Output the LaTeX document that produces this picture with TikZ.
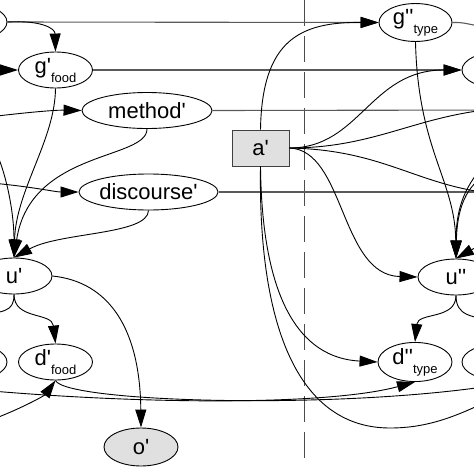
\documentclass[tikz,border=0pt]{standalone}
\usepackage{fontspec}
\setmainfont{Liberation Sans}[Ligatures=TeXOff]
\usetikzlibrary{arrows.meta,shapes.geometric}
\definecolor{nodegray}{RGB}{224,224,224}
\definecolor{linegray}{RGB}{90,90,90}
\newcommand{\sbx}[1]{\raisebox{-9pt}{\fontsize{13}{13}\selectfont #1}}
\begin{document}
\begin{tikzpicture}[x=1pt,y=-1pt,
  ell/.style={draw=black, ellipse, inner sep=0pt, line width=0.9pt,
    minimum width=74pt, minimum height=36pt, font=\fontsize{22}{24}\selectfont},
  abox/.style={draw=black!75, fill=nodegray, rectangle, inner sep=0pt, line width=0.9pt,
    minimum width=57pt, minimum height=36pt, font=\fontsize{22}{24}\selectfont},
  edge/.style={line width=0.9pt, draw=black},
  arr/.style={-{Triangle[length=18pt,width=11pt,black]}},
  hline/.style={line width=1.1pt, draw=linegray},
  sep/.style={line width=1pt, draw=black!70, dash pattern=on 26pt off 10pt}
]
\useasboundingbox (0,0) rectangle (474,474);
\clip (0,0) rectangle (474,474);

% nodes
\node[ell] (L1) at (-30,22) {};
\node[ell] (L2) at (-30,362) {};
\node[ell] (R1) at (499,70) {};
\node[ell] (R2) at (499,362) {};
\node[ell] (gfood) at (55.5,70) {g'\sbx{food}};
\node[ell, minimum width=130pt] (method) at (147,110.5) {method'};
\node[ell, minimum width=127pt] (disc) at (148.5,192) {discourse'};
\node[ell, minimum width=76pt] (uL) at (14,276) {u'};
\node[ell] (dfood) at (55.5,362) {d'\sbx{food}};
\node[ell, fill=nodegray, minimum height=38pt] (o) at (141,447) {o'};
\node[abox] (a) at (260.5,148) {a'};
\node[ell, minimum width=73pt] (gtype) at (415.5,22.5) {g''\sbx{type}};
\node[ell, minimum width=76pt] (uR) at (456,277) {u''};
\node[ell, minimum height=38pt] (dtype) at (415,362) {d''\sbx{type}};

% free ends
\coordinate (inG) at (-40,70);
\coordinate (inM) at (-20,118);
\coordinate (inD) at (-20,182);
\coordinate (inU) at (-10,140);
\coordinate (outU) at (-30,316);
\coordinate (inDf) at (-20,424);
\coordinate (inDt) at (-20,390);
\coordinate (mOut) at (520,110);
\coordinate (dOut) at (520,192);
\coordinate (dfOut) at (490,386);
\coordinate (aOut1) at (510,108);
\coordinate (aOut2) at (510,195);
\coordinate (aOut3) at (500,395);
\coordinate (r1in) at (490,158);
\coordinate (r2in) at (490,172);
\coordinate (r3in) at (500,240);
\coordinate (uOut) at (500,320);

% separator
\draw[sep] (304,0) -- (304,462);

% left half
\draw[hline,arr] (L1.east) -- (gtype.west);
\draw[edge,arr] (L1.east) .. controls (40,20) and (55,28) .. (gfood.north);
\draw[hline,arr] (inG) -- (gfood.west);
\draw[hline,arr] (gfood.east) -- (R1.west);
\draw[edge,arr] (inM) .. controls (30,112) and (55,110) .. (method.west);
\draw[hline] (method.east) -- (mOut);
\draw[edge,arr] (inD) .. controls (30,186) and (55,192) .. (disc.west);
\draw[hline] (disc.east) -- (dOut);
\draw[edge,arr] (gfood.south) .. controls (55,140) and (16,190) .. (uL.north);
\draw[edge,arr] (inU) .. controls (5,165) and (14,210) .. (uL.north);
\draw[edge,arr] (method.south) .. controls (147,160) and (30,150) .. (uL.north);
\draw[edge,arr] (disc.south) .. controls (148,235) and (60,232) .. (uL.north);
\draw[edge,arr] (uL.east) .. controls (110,282) and (140,330) .. (o.north);
\draw[edge] (uL.south) .. controls (14,312) and (5,312) .. (outU);
\draw[edge,arr] (uL.south) .. controls (14,320) and (52,312) .. (dfood.north);
\draw[edge,arr] (inDf) .. controls (20,410) and (45,395) .. (dfood.south);
\draw[edge,arr] (inDt) .. controls (150,405) and (330,405) .. (dtype.south);
\draw[edge] (dfood.south) .. controls (65,402) and (330,410) .. (dfOut);

% a' edges
\draw[edge,arr] (a.north) .. controls (262,40) and (300,22) .. (gtype.west);
\draw[edge,arr] (a.east) .. controls (360,148) and (370,70) .. (R1.west);
\draw[edge] (a.east) .. controls (380,148) and (420,112) .. (aOut1);
\draw[edge,arr] (a.east) .. controls (345,150) and (340,275) .. (uR.west);
\draw[edge] (a.east) .. controls (390,150) and (420,190) .. (aOut2);
\draw[edge,arr] (a.south) .. controls (262,300) and (300,358) .. (dtype.west);
\draw[edge] (a.south) .. controls (258,330) and (300,428) .. (390,428)
  .. controls (430,428) and (460,415) .. (aOut3);

% right half
\draw[edge,arr] (gtype.south) .. controls (418,150) and (455,180) .. (uR.north);
\draw[edge,arr] (r1in) .. controls (470,180) and (456,200) .. (uR.north);
\draw[edge,arr] (r2in) .. controls (465,185) and (457,210) .. (uR.north);
\draw[edge,arr] (r3in) .. controls (480,245) .. (uR.north);
\draw[edge,arr] (uR.south) .. controls (456,320) and (418,312) .. (dtype.north);
\draw[edge] (uR.south) .. controls (456,315) and (470,318) .. (uOut);
\draw[hline] (gtype.east) .. controls (465,22) and (470,25) .. (490,28);
\end{tikzpicture}
\end{document}
